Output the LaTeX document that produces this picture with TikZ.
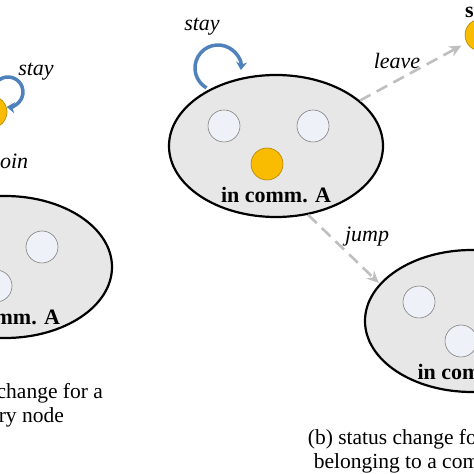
\documentclass[tikz,border=0pt]{standalone}
\usepackage{fontspec}
\setmainfont{Liberation Serif}
\usepackage{xcolor}
\usetikzlibrary{shapes.geometric,arrows.meta}

\definecolor{commgray}{RGB}{231,231,231}
\definecolor{memberfill}{RGB}{238,241,248}
\definecolor{nodegold}{RGB}{250,188,0}
\definecolor{loopblue}{RGB}{79,129,189}
\definecolor{movegray}{RGB}{191,191,191}

\tikzset{
  community/.style={ellipse, draw=black, line width=2.2pt, fill=commgray,
    minimum width=214pt, minimum height=142pt, inner sep=0pt},
  member/.style={circle, draw=gray, line width=0.6pt, fill=memberfill,
    minimum size=32pt, inner sep=0pt},
  mover/.style={circle, draw=nodegold!70!black, line width=0.6pt, fill=nodegold,
    minimum size=32pt, inner sep=0pt},
  staylink/.style={draw=loopblue, line width=3.5pt, -{Stealth[length=8pt,width=11pt]}},
  movelink/.style={draw=movegray, line width=2.6pt, dash pattern=on 12pt off 7pt,
    -{Stealth[length=12pt,width=11pt]}},
  lbl/.style={font=\fontsize{22}{26}\selectfont\itshape, inner sep=0pt, anchor=base},
  commlbl/.style={font=\fontsize{22}{26}\selectfont\bfseries, inner sep=0pt, anchor=base},
  caption/.style={font=\fontsize{21.5}{24}\selectfont, align=center, inner sep=0pt}
}

\begin{document}
\begin{tikzpicture}[x=1pt, y=1pt]

    \useasboundingbox (0,0) rectangle (474,474);
    \clip (0,0) rectangle (474,474);

    % (a) a solitary node joins
    \coordinate (loopa) at (8,382);
    \draw[staylink] (loopa) ++(200:15) arc[start angle=200, end angle=-95, radius=15];
    \node[mover] (joiner) at (-9,362) {};
    \node[lbl] (stayA) at (36,398) {stay};
    \node[lbl] (joinA) at (11,305) {join};

    \node[community] (commL) at (5,207) {};
    \node[member] (l1) at ([shift={(-52,20)}]commL.center) {};
    \node[member] (l2) at ([shift={(37,20)}]commL.center) {};
    \node[member] (l3) at ([shift={(-9,-19)}]commL.center) {};
    \node[commlbl] (nameL) at ([yshift=-58pt]commL.center) {in comm. A};

    \node[caption] (capA) at (8,69) {(a) status change for a\\solitary node};

    % (b) a node inside comm. A
    \coordinate (loopb) at (218,406);
    \draw[staylink] (loopb) ++(240:23) arc[start angle=240, end angle=-5, radius=23];
    \node[lbl] (stayB) at (202,443) {stay};

    \node[community] (commA) at (276,328) {};
    \node[member] (a1) at ([shift={(-52,20)}]commA.center) {};
    \node[member] (a2) at ([shift={(37,20)}]commA.center) {};
    \node[mover] (leaver) at ([shift={(-9,-18)}]commA.center) {};
    \node[commlbl] (nameA) at ([yshift=-57pt]commA.center) {in comm. A};

    \node[mover] (single) at (481,439) {};
    \node[commlbl, anchor=base west] (singleLbl) at (465,456) {single};

    \node[community] (commB) at (472,153) {};
    \node[member] (b1) at ([shift={(-53,19)}]commB.center) {};
    \node[member] (b2) at ([shift={(37,19)}]commB.center) {};
    \node[member] (b3) at ([shift={(-11,-20)}]commB.center) {};
    \node[commlbl] (nameB) at ([yshift=-59pt]commB.center) {in comm. B};

    % moves out of comm. A
    \draw[movelink, shorten >=6pt] (commA) -- (single);
    \node[lbl] (leaveB) at (397,405) {leave};
    \draw[movelink, shorten >=1pt] (commA.-65) -- (commB.158);
    \node[lbl] (jumpB) at (367,232) {jump};

    \node[caption] (capB) at (427,23) {(b) status change for a node\\belonging to a community};

\end{tikzpicture}
\end{document}
